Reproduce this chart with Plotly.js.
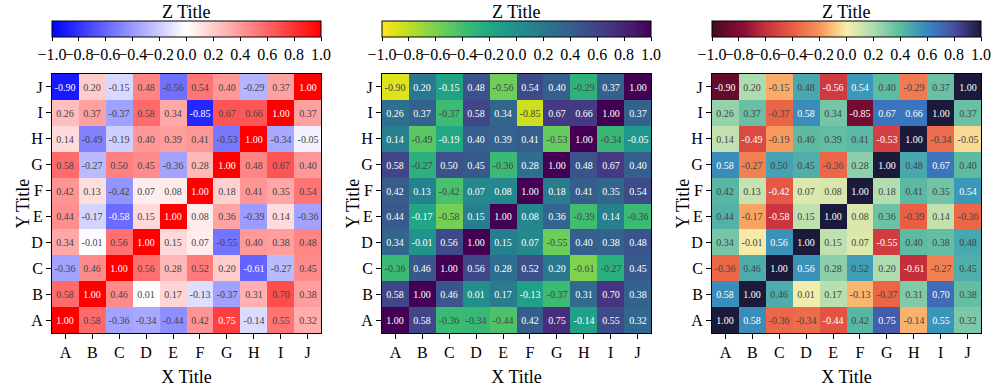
<!DOCTYPE html>
<html>
<head>
<meta charset="utf-8">
<script src="https://cdn.plot.ly/plotly-3.0.1.min.js"></script>
<style>html,body{margin:0;padding:0;background:#fff;}#chart{width:1002px;height:387px;}</style>
</head>
<body>
<div id="chart"></div>
<script>
const xLabels = ['A','B','C','D','E','F','G','H','I','J'];
const yLabels = ['A','B','C','D','E','F','G','H','I','J'];
// rows listed bottom (A) to top (J)
const rowA = [1.00, 0.58, -0.36, -0.34, -0.44, 0.42, 0.75, -0.14, 0.55, 0.32];
const rowB = [0.58, 1.00, 0.46, 0.01, 0.17, -0.13, -0.37, 0.31, 0.70, 0.38];
const rowC = [-0.36, 0.46, 1.00, 0.56, 0.28, 0.52, 0.20, -0.61, -0.27, 0.45];
const rowD = [0.34, -0.01, 0.56, 1.00, 0.15, 0.07, -0.55, 0.40, 0.38, 0.48];
const rowE = [0.44, -0.17, -0.58, 0.15, 1.00, 0.08, 0.36, -0.39, 0.14, -0.36];
const rowF = [0.42, 0.13, -0.42, 0.07, 0.08, 1.00, 0.18, 0.41, 0.35, 0.54];
const rowG = [0.58, -0.27, 0.50, 0.45, -0.36, 0.28, 1.00, 0.48, 0.67, 0.40];
const rowH = [0.14, -0.49, -0.19, 0.40, 0.39, 0.41, -0.53, 1.00, -0.34, -0.05];
const rowI = [0.26, 0.37, -0.37, 0.58, 0.34, -0.85, 0.67, 0.66, 1.00, 0.37];
const rowJ = [-0.90, 0.20, -0.15, 0.48, -0.56, 0.54, 0.40, -0.29, 0.37, 1.00];
const zValues = [rowA, rowB, rowC, rowD, rowE, rowF, rowG, rowH, rowI, rowJ];

const cbTickVals = [-1.0, -0.8, -0.6, -0.4, -0.2, 0.0, 0.2, 0.4, 0.6, 0.8, 1.0];

const bwr = [[0,'#0000ff'],[0.5,'#ffffff'],[1,'#ff0000']];
const spectralDark = [
  [0.00,'#3b0f1e'],[0.06,'#6e0a2e'],[0.12,'#8a0f34'],[0.2,'#c8313f'],[0.3,'#e85c44'],
  [0.4,'#f6955a'],[0.45,'#fbc37a'],[0.5,'#f7eeab'],[0.6,'#acdcb0'],[0.7,'#5dbba2'],
  [0.77,'#3a98b8'],[0.83,'#3a76bf'],[0.9,'#4a4ea2'],[0.95,'#353070'],[1.0,'#1c1a3a']
];

const FONT = 'Liberation Serif, Times New Roman, serif';
const W = 1002, H = 387;
const mL = 52, mR = 21, mT = 74, mB = 54;
const pw = W - mL - mR, ph = H - mT - mB;
const panelW = 269, gap = 330;
const doms = [0,1,2].map(i => [i*gap/pw, (i*gap+panelW)/pw]);

function makeTrace(i, cs, rev) {
  const ax = i === 0 ? '' : String(i+1);
  return {
    type: 'heatmap',
    x: xLabels, y: yLabels, z: zValues,
    xaxis: 'x'+ax, yaxis: 'y'+ax,
    zmin: -1, zmax: 1,
    colorscale: cs, reversescale: rev,
    texttemplate: '%{z:.2f}',
    textfont: {family: FONT, size: 10},
    colorbar: {
      orientation: 'h',
      x: doms[i][0], xanchor: 'left',
      y: 1 + 53/ph, yanchor: 'top',
      len: panelW, lenmode: 'pixels',
      thickness: 16, thicknessmode: 'pixels',
      xpad: 0, ypad: 0,
      outlinewidth: 1, outlinecolor: '#000',
      tickmode: 'array', tickvals: cbTickVals,
      ticktext: cbTickVals.map(v => v.toFixed(1).replace('-', '\u2212')),
      tickangle: 0,
      ticks: 'outside', ticklen: 4, tickcolor: '#000',
      tickfont: {family: FONT, size: 16, color: '#000'}
    }
  };
}

const data = [
  makeTrace(0, bwr, false),
  makeTrace(1, 'Viridis', true),
  makeTrace(2, spectralDark, false)
];

function xAxis(i) {
  return {
    domain: doms[i], anchor: i === 0 ? 'y' : 'y'+(i+1),
    type: 'category', ticks: 'outside', ticklen: 5, tickcolor: '#000',
    showline: true, linecolor: '#000', linewidth: 1, mirror: true,
    showgrid: false, zeroline: false,
    tickfont: {family: FONT, size: 16, color: '#000'},
    title: {text: 'X Title', font: {family: FONT, size: 18, color: '#000'}, standoff: 12},
    automargin: false
  };
}
function yAxis(i) {
  return {
    domain: [0,1], anchor: i === 0 ? 'x' : 'x'+(i+1),
    type: 'category', ticks: 'outside', ticklen: 5, tickcolor: '#000',
    showline: true, linecolor: '#000', linewidth: 1, mirror: true,
    showgrid: false, zeroline: false,
    tickfont: {family: FONT, size: 16, color: '#000'},
    automargin: false
  };
}

const annotations = [];
[0,1,2].forEach(i => {
  annotations.push({
    text: 'Y Title', xref: 'paper', yref: 'paper',
    x: doms[i][0], y: 0.5, xanchor: 'center', yanchor: 'middle',
    xshift: -30, textangle: -90, showarrow: false,
    font: {family: FONT, size: 18, color: '#000'}
  });
  annotations.push({
    text: 'Z Title', xref: 'paper', yref: 'paper',
    x: (doms[i][0] + doms[i][1]) / 2, y: 1 + 62/ph, xanchor: 'center', yanchor: 'middle',
    showarrow: false,
    font: {family: FONT, size: 18, color: '#000'}
  });
});

const layout = {
  width: W, height: H,
  margin: {l: mL, r: mR, t: mT, b: mB, pad: 0},
  paper_bgcolor: '#fff', plot_bgcolor: '#fff',
  font: {family: FONT, color: '#000'},
  showlegend: false,
  annotations: annotations,
  xaxis: xAxis(0), yaxis: yAxis(0),
  xaxis2: xAxis(1), yaxis2: yAxis(1),
  xaxis3: xAxis(2), yaxis3: yAxis(2)
};

Plotly.newPlot('chart', data, layout, {displayModeBar: false, staticPlot: true});
</script>
</body>
</html>
